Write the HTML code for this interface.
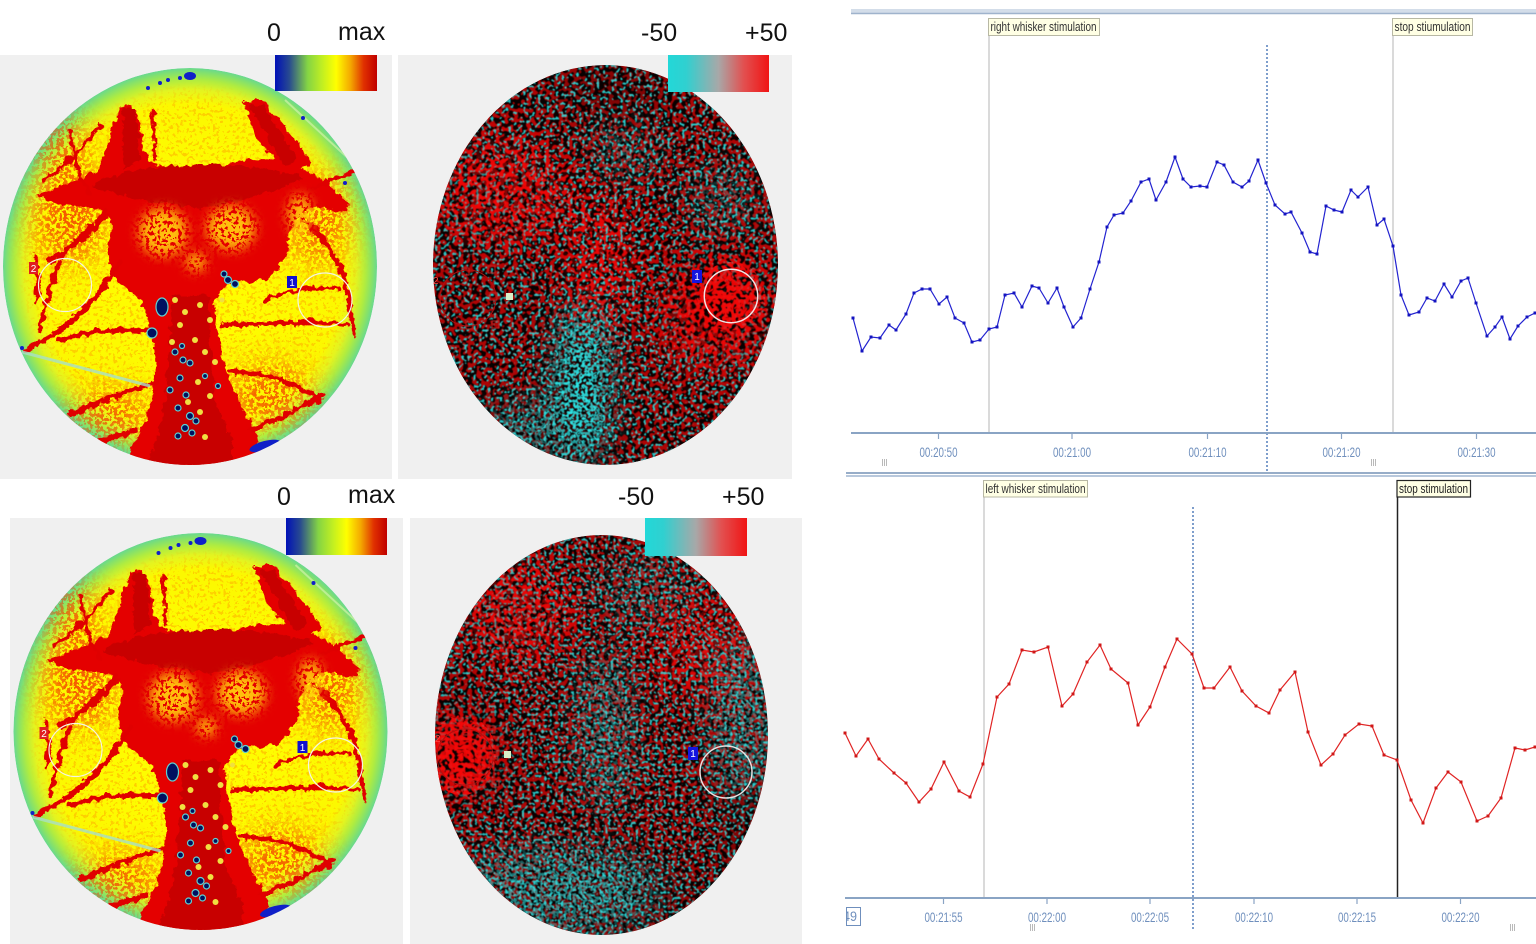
<!DOCTYPE html>
<html>
<head>
<meta charset="utf-8">
<style>
html,body{margin:0;padding:0;background:#fff;width:1536px;height:944px;overflow:hidden}
svg{display:block}
</style>
</head>
<body>
<svg width="1536" height="944" viewBox="0 0 1536 944" xmlns="http://www.w3.org/2000/svg">
<defs>
  <linearGradient id="jet" x1="0" y1="0" x2="1" y2="0">
    <stop offset="0" stop-color="#0010b8"/>
    <stop offset="0.14" stop-color="#284a90"/>
    <stop offset="0.32" stop-color="#84d444"/>
    <stop offset="0.47" stop-color="#c4f020"/>
    <stop offset="0.6" stop-color="#ffff00"/>
    <stop offset="0.74" stop-color="#f4a800"/>
    <stop offset="0.87" stop-color="#e03000"/>
    <stop offset="1" stop-color="#c00000"/>
  </linearGradient>
  <linearGradient id="cr" x1="0" y1="0" x2="1" y2="0">
    <stop offset="0" stop-color="#22d8d8"/>
    <stop offset="0.18" stop-color="#30d0d0"/>
    <stop offset="0.5" stop-color="#a8a8a8"/>
    <stop offset="0.75" stop-color="#e25050"/>
    <stop offset="1" stop-color="#f01414"/>
  </linearGradient>
  <radialGradient id="heatBase" cx="0.5" cy="0.5" r="0.5">
    <stop offset="0" stop-color="#ffff00"/>
    <stop offset="0.82" stop-color="#fcf800"/>
    <stop offset="0.89" stop-color="#e4f420"/>
    <stop offset="0.94" stop-color="#b0ec40"/>
    <stop offset="0.98" stop-color="#80e070"/>
    <stop offset="1" stop-color="#68d890"/>
  </radialGradient>
  <radialGradient id="fadeR" cx="0.5" cy="0.5" r="0.5">
    <stop offset="0" stop-color="#fff"/>
    <stop offset="0.8" stop-color="#ccc"/>
    <stop offset="0.93" stop-color="#000"/>
  </radialGradient>

  <filter id="rough" x="-10%" y="-10%" width="120%" height="120%">
    <feTurbulence type="fractalNoise" baseFrequency="0.13" numOctaves="3" seed="5" result="n"/>
    <feDisplacementMap in="SourceGraphic" in2="n" scale="9" xChannelSelector="R" yChannelSelector="G"/>
  </filter>
  <filter id="spkO" x="0" y="0" width="1" height="1" color-interpolation-filters="sRGB">
    <feTurbulence type="fractalNoise" baseFrequency="0.3" numOctaves="2" seed="11"/>
    <feColorMatrix type="matrix" values="0 0 0 0 1  0 0 0 0 0.55  0 0 0 0 0  1 0 0 0 0"/>
    <feComponentTransfer><feFuncA type="discrete" tableValues="0 0 0 0 0 0 0 0 0 0 0 0 1 1 1 1 1 1 1 1"/></feComponentTransfer>
    <feComposite in2="SourceGraphic" operator="in"/>
  </filter>
  <filter id="spkRO" x="0" y="0" width="1" height="1" color-interpolation-filters="sRGB">
    <feTurbulence type="fractalNoise" baseFrequency="0.28" numOctaves="2" seed="13"/>
    <feColorMatrix type="matrix" values="0 0 0 0 0.95  0 0 0 0 0.2  0 0 0 0 0  1 0 0 0 0"/>
    <feComponentTransfer><feFuncA type="discrete" tableValues="0 0 0 0 0 0 0 0 0 0 1 1 1 1 1 1 1 1 1 1"/></feComponentTransfer>
    <feComposite in2="SourceGraphic" operator="in"/>
  </filter>
  <filter id="spkY" x="0" y="0" width="1" height="1" color-interpolation-filters="sRGB">
    <feTurbulence type="fractalNoise" baseFrequency="0.28" numOctaves="2" seed="19"/>
    <feColorMatrix type="matrix" values="0 0 0 0 1  0 0 0 0 0.75  0 0 0 0 0.05  1 0 0 0 0"/>
    <feComponentTransfer><feFuncA type="discrete" tableValues="0 0 0 0 0 0 0 0 0 1 1 1 1 1 1 1 1 1 1 1"/></feComponentTransfer>
    <feComposite in2="SourceGraphic" operator="in"/>
  </filter>
  <filter id="spkR" x="0" y="0" width="1" height="1" color-interpolation-filters="sRGB">
    <feTurbulence type="fractalNoise" baseFrequency="0.22" numOctaves="1" seed="3"/>
    <feColorMatrix type="matrix" values="0 0 0 0 0.92  0 0 0 0 0.02  0 0 0 0 0.02  1 0 0 0 0"/>
    <feComponentTransfer><feFuncA type="discrete" tableValues="0 0 0 0 0 0 0 0 0 0 1 1 1 1 1 1 1 1 1 1"/></feComponentTransfer>
    <feGaussianBlur stdDeviation="0.5"/>
    <feComposite in2="SourceGraphic" operator="in"/>
  </filter>
  <filter id="spkRh" x="0" y="0" width="1" height="1" color-interpolation-filters="sRGB">
    <feTurbulence type="fractalNoise" baseFrequency="0.22" numOctaves="1" seed="31"/>
    <feColorMatrix type="matrix" values="0 0 0 0 0.95  0 0 0 0 0.03  0 0 0 0 0.03  1 0 0 0 0"/>
    <feComponentTransfer><feFuncA type="discrete" tableValues="0 0 0 0 0 0 0 0 0 0 1 1 1 1 1 1 1 1 1 1"/></feComponentTransfer>
    <feGaussianBlur stdDeviation="0.5"/>
    <feComposite in2="SourceGraphic" operator="in"/>
  </filter>
  <filter id="spkC" x="0" y="0" width="1" height="1" color-interpolation-filters="sRGB">
    <feTurbulence type="fractalNoise" baseFrequency="0.34" numOctaves="1" seed="9"/>
    <feColorMatrix type="matrix" values="0 0 0 0 0.18  0 0 0 0 0.9  0 0 0 0 0.9  1 0 0 0 0"/>
    <feComponentTransfer><feFuncA type="discrete" tableValues="0 0 0 0 0 0 0 0 0 0 0 0 1 1 1 1 1 1 1 1"/></feComponentTransfer>
    <feGaussianBlur stdDeviation="0.4"/>
    <feComposite in2="SourceGraphic" operator="in"/>
  </filter>
  <filter id="spkCh" x="0" y="0" width="1" height="1" color-interpolation-filters="sRGB">
    <feTurbulence type="fractalNoise" baseFrequency="0.34" numOctaves="1" seed="41"/>
    <feColorMatrix type="matrix" values="0 0 0 0 0.18  0 0 0 0 0.9  0 0 0 0 0.9  1 0 0 0 0"/>
    <feComponentTransfer><feFuncA type="discrete" tableValues="0 0 0 0 0 0 0 0 0 0 1 1 1 1 1 1 1 1 1 1"/></feComponentTransfer>
    <feGaussianBlur stdDeviation="0.4"/>
    <feComposite in2="SourceGraphic" operator="in"/>
  </filter>
  <filter id="spkR2" x="0" y="0" width="1" height="1" color-interpolation-filters="sRGB">
    <feTurbulence type="fractalNoise" baseFrequency="0.22" numOctaves="1" seed="17"/>
    <feColorMatrix type="matrix" values="0 0 0 0 0.9  0 0 0 0 0.02  0 0 0 0 0.02  1 0 0 0 0"/>
    <feComponentTransfer><feFuncA type="discrete" tableValues="0 0 0 0 0 0 0 0 0 0 1 1 1 1 1 1 1 1 1 1"/></feComponentTransfer>
    <feGaussianBlur stdDeviation="0.5"/>
    <feComposite in2="SourceGraphic" operator="in"/>
  </filter>
  <filter id="spkC2" x="0" y="0" width="1" height="1" color-interpolation-filters="sRGB">
    <feTurbulence type="fractalNoise" baseFrequency="0.36" numOctaves="1" seed="23"/>
    <feColorMatrix type="matrix" values="0 0 0 0 0.18  0 0 0 0 0.88  0 0 0 0 0.88  1 0 0 0 0"/>
    <feComponentTransfer><feFuncA type="discrete" tableValues="0 0 0 0 0 0 0 0 0 0 0 0 1 1 1 1 1 1 1 1"/></feComponentTransfer>
    <feGaussianBlur stdDeviation="0.4"/>
    <feComposite in2="SourceGraphic" operator="in"/>
  </filter>
  <filter id="mblur" x="-20%" y="-20%" width="140%" height="140%">
    <feGaussianBlur stdDeviation="16"/>
  </filter>
  <filter id="mblur2" x="-20%" y="-20%" width="140%" height="140%">
    <feGaussianBlur stdDeviation="6"/>
  </filter>

  <clipPath id="cHeat"><ellipse cx="190" cy="266.5" rx="187" ry="198.5"/></clipPath>
  <clipPath id="cS1"><ellipse cx="605.5" cy="265" rx="172.5" ry="200"/></clipPath>
  <clipPath id="cS2"><ellipse cx="601.5" cy="735" rx="166.5" ry="200"/></clipPath>

  <mask id="mO" maskUnits="userSpaceOnUse" x="0" y="60" width="390" height="420">
    <ellipse cx="190" cy="266.5" rx="187" ry="198.5" fill="url(#fadeR)"/>
  </mask>
  <mask id="mSide" maskUnits="userSpaceOnUse" x="0" y="60" width="390" height="420">
    <g filter="url(#mblur)" fill="#fff">
      <ellipse cx="70" cy="215" rx="35" ry="50"/>
      <ellipse cx="318" cy="220" rx="28" ry="45"/>
      <ellipse cx="110" cy="415" rx="40" ry="25"/>
      <ellipse cx="270" cy="395" rx="40" ry="30"/>
      <ellipse cx="62" cy="145" rx="25" ry="25"/>
    </g>
  </mask>
  <mask id="mCen" maskUnits="userSpaceOnUse" x="0" y="60" width="390" height="420">
    <g filter="url(#mblur2)" fill="#fff">
      <ellipse cx="163" cy="232" rx="24" ry="24"/>
      <ellipse cx="231" cy="228" rx="24" ry="22"/>
      <ellipse cx="196" cy="262" rx="10" ry="9"/>
      <ellipse cx="300" cy="215" rx="12" ry="20"/>
    </g>
  </mask>

  <mask id="mR1" maskUnits="userSpaceOnUse" x="420" y="50" width="380" height="430">
    <rect x="420" y="50" width="380" height="430" fill="#bcbcbc"/>
    <g filter="url(#mblur)">
      <ellipse cx="505" cy="190" rx="70" ry="60" fill="#fff"/>
      <ellipse cx="600" cy="260" rx="35" ry="70" fill="#fff"/>
      <ellipse cx="718" cy="305" rx="60" ry="60" fill="#fff"/>
      <ellipse cx="580" cy="395" rx="30" ry="75" fill="#2a2a2a"/>
      <ellipse cx="515" cy="430" rx="45" ry="25" fill="#666"/>
      <ellipse cx="612" cy="90" rx="60" ry="22" fill="#777"/>
    </g>
  </mask>
  <mask id="mRh1" maskUnits="userSpaceOnUse" x="420" y="50" width="380" height="430">
    <rect x="420" y="50" width="380" height="430" fill="#000"/>
    <g filter="url(#mblur)">
      <ellipse cx="505" cy="195" rx="60" ry="50" fill="#888"/>
      <ellipse cx="602" cy="255" rx="28" ry="60" fill="#888"/>
      <ellipse cx="705" cy="330" rx="55" ry="45" fill="#999"/>
    </g>
    <circle cx="731" cy="296" r="34" fill="#fff"/>
  </mask>
  <mask id="mC1" maskUnits="userSpaceOnUse" x="420" y="50" width="380" height="430">
    <rect x="420" y="50" width="380" height="430" fill="#dcdcdc"/>
    <g filter="url(#mblur)">
      <ellipse cx="582" cy="385" rx="28" ry="80" fill="#fff"/>
      <ellipse cx="718" cy="305" rx="48" ry="48" fill="#111"/>
      <ellipse cx="500" cy="200" rx="60" ry="50" fill="#999"/>
    </g>
  </mask>
  <mask id="mCh1" maskUnits="userSpaceOnUse" x="420" y="50" width="380" height="430">
    <rect x="420" y="50" width="380" height="430" fill="#000"/>
    <g filter="url(#mblur)">
      <ellipse cx="582" cy="385" rx="26" ry="78" fill="#fff"/>
      <ellipse cx="525" cy="428" rx="38" ry="22" fill="#999"/>
      <ellipse cx="625" cy="150" rx="35" ry="25" fill="#555"/>
      <ellipse cx="722" cy="200" rx="35" ry="35" fill="#444"/>
    </g>
  </mask>
  <mask id="mR2" maskUnits="userSpaceOnUse" x="420" y="520" width="370" height="430">
    <rect x="420" y="520" width="370" height="430" fill="#bcbcbc"/>
    <g filter="url(#mblur)">
      <ellipse cx="462" cy="755" rx="38" ry="45" fill="#fff"/>
      <ellipse cx="520" cy="610" rx="60" ry="60" fill="#fff"/>
      <ellipse cx="700" cy="640" rx="60" ry="60" fill="#eee"/>
      <ellipse cx="600" cy="890" rx="90" ry="40" fill="#777"/>
      <ellipse cx="745" cy="830" rx="30" ry="60" fill="#888"/>
    </g>
  </mask>
  <mask id="mRh2" maskUnits="userSpaceOnUse" x="420" y="520" width="370" height="430">
    <rect x="420" y="520" width="370" height="430" fill="#000"/>
    <g filter="url(#mblur)">
      <ellipse cx="520" cy="615" rx="50" ry="50" fill="#888"/>
      <ellipse cx="700" cy="650" rx="50" ry="50" fill="#777"/>
    </g>
    <ellipse cx="462" cy="755" rx="34" ry="40" fill="#fff"/>
  </mask>
  <mask id="mC2" maskUnits="userSpaceOnUse" x="420" y="520" width="370" height="430">
    <rect x="420" y="520" width="370" height="430" fill="#e0e0e0"/>
    <g filter="url(#mblur)">
      <ellipse cx="462" cy="755" rx="40" ry="45" fill="#000"/>
      <ellipse cx="515" cy="620" rx="40" ry="40" fill="#999"/>
    </g>
  </mask>
  <mask id="mCh2" maskUnits="userSpaceOnUse" x="420" y="520" width="370" height="430">
    <rect x="420" y="520" width="370" height="430" fill="#000"/>
    <g filter="url(#mblur)">
      <ellipse cx="560" cy="890" rx="100" ry="40" fill="#999"/>
      <ellipse cx="742" cy="720" rx="30" ry="80" fill="#777"/>
      <ellipse cx="605" cy="730" rx="25" ry="80" fill="#777"/>
      <ellipse cx="640" cy="590" rx="50" ry="30" fill="#444"/>
    </g>
  </mask>

  <marker id="mb" markerWidth="3" markerHeight="3" refX="1.5" refY="1.5" markerUnits="userSpaceOnUse">
    <rect width="3" height="3" fill="#1414c0"/>
  </marker>
  <marker id="mr" markerWidth="3" markerHeight="3" refX="1.5" refY="1.5" markerUnits="userSpaceOnUse">
    <rect width="3" height="3" fill="#d01818"/>
  </marker>

  <g id="heat" clip-path="url(#cHeat)">
    <ellipse cx="190" cy="266.5" rx="187" ry="198.5" fill="url(#heatBase)"/>
    <rect x="0" y="65" width="380" height="405" filter="url(#spkO)" mask="url(#mO)" opacity="0.45"/>
    <rect x="0" y="65" width="380" height="405" filter="url(#spkRO)" mask="url(#mSide)" opacity="0.8"/>
    <g filter="url(#rough)">
      <path fill="#e40000" d="M36,196 L60,186 L84,178 L100,168 L106,150 L112,128 L120,108 L132,104 L140,120 L142,142 L150,162 L170,168 L190,172 L212,170 L232,162 L262,158 L286,160 L300,168 L316,176 L334,190 L350,206 L340,212 L318,206 L300,212 L290,232 L286,256 L272,276 L250,282 L228,284 L214,300 L218,340 L226,372 L240,404 L256,432 L262,452 L250,468 L132,468 L130,450 L142,430 L152,400 L156,362 L152,330 L140,300 L122,286 L110,272 L108,250 L112,228 L104,212 L80,206 L56,204 Z"/>
      <path fill="#e40000" d="M242,100 L262,100 L282,124 L300,146 L312,164 L296,170 L276,160 L258,140 Z"/>
      <g fill="none" stroke="#e00000" stroke-linecap="round">
        <path stroke-width="6" d="M106,212 C92,230 75,245 50,262"/>
        <path stroke-width="5" d="M120,262 C105,285 92,305 60,330 C45,340 35,345 25,350"/>
        <path stroke-width="4" d="M60,262 C50,285 45,305 40,330"/>
        <path stroke-width="5" d="M300,215 C320,232 336,255 345,280 C350,300 350,320 355,335"/>
        <path stroke-width="4" d="M310,190 C325,182 340,178 355,172"/>
        <path stroke-width="5" d="M150,330 C120,330 90,330 60,340"/>
        <path stroke-width="5" d="M158,382 C130,390 100,400 70,415"/>
        <path stroke-width="5" d="M222,325 C260,325 300,320 345,325"/>
        <path stroke-width="5" d="M230,372 C260,372 290,380 320,400"/>
        <path stroke-width="3.5" d="M100,125 C90,142 70,160 45,180"/>
        <path stroke-width="3.5" d="M70,130 C75,160 80,180 90,195"/>
        <path stroke-width="5" d="M135,430 C110,440 90,445 70,440"/>
        <path stroke-width="5" d="M250,430 C275,420 300,410 320,395"/>
        <path stroke-width="3.5" d="M35,255 C38,270 40,285 36,300"/>
        <path stroke-width="3.5" d="M265,300 C290,290 320,285 340,290"/>
        <path stroke-width="3" d="M153,110 L155,160"/>
      </g>
    </g>
    <g filter="url(#rough)" fill="#c80000">
      <path d="M92,185 C140,160 240,158 305,178 C262,196 230,204 200,208 C160,204 120,198 92,185 Z"/>
      <path d="M172,296 L208,296 L214,400 L232,440 L232,466 L148,466 L156,440 L166,400 Z"/>
      <path d="M122,108 L136,108 L140,160 L124,170 Z"/>
      <path d="M248,104 L262,104 L298,158 L285,168 Z"/>
    </g>
    <rect x="60" y="150" width="280" height="160" filter="url(#spkY)" mask="url(#mCen)"/>
    <line x1="22" y1="352" x2="150" y2="386" stroke="#a8e0c8" stroke-width="3" opacity="0.8"/>
    <line x1="285" y1="100" x2="350" y2="160" stroke="#c8f0a0" stroke-width="2" opacity="0.8"/>
    <g fill="#f0e040">
      <circle cx="175" cy="300" r="3"/><circle cx="185" cy="312" r="3"/><circle cx="200" cy="305" r="3"/>
      <circle cx="180" cy="325" r="3"/><circle cx="210" cy="320" r="3"/><circle cx="195" cy="340" r="3"/>
      <circle cx="205" cy="352" r="3"/><circle cx="215" cy="362" r="3"/><circle cx="198" cy="382" r="3"/>
      <circle cx="210" cy="396" r="3"/><circle cx="188" cy="402" r="3"/><circle cx="200" cy="412" r="3"/>
      <circle cx="205" cy="437" r="3"/><circle cx="172" cy="342" r="3"/><circle cx="222" cy="300" r="2.5"/>
    </g>
    <g fill="#001060" stroke="#60d0d0" stroke-width="1.2">
      <ellipse cx="162" cy="307" rx="6" ry="9"/>
      <circle cx="152" cy="333" r="5"/>
      <circle cx="228" cy="280" r="3.5"/><circle cx="235" cy="284" r="3.5"/><circle cx="224" cy="274" r="3"/>
      <circle cx="175" cy="352" r="3"/><circle cx="183" cy="360" r="3"/><circle cx="190" cy="363" r="3"/>
      <circle cx="180" cy="378" r="3"/><circle cx="170" cy="390" r="3"/><circle cx="186" cy="395" r="3"/>
      <circle cx="178" cy="408" r="3"/><circle cx="190" cy="416" r="3.5"/><circle cx="185" cy="428" r="3.5"/>
      <circle cx="192" cy="433" r="3"/><circle cx="178" cy="436" r="3"/><circle cx="196" cy="421" r="3"/>
      <circle cx="205" cy="376" r="2.5"/><circle cx="218" cy="386" r="2.5"/><circle cx="182" cy="346" r="2.5"/>
    </g>
    <g fill="#1020c8">
      <ellipse cx="190" cy="76" rx="6" ry="4"/>
      <circle cx="180" cy="78" r="2"/><circle cx="168" cy="80" r="2"/><circle cx="160" cy="83" r="2"/><circle cx="148" cy="88" r="2"/>
      <ellipse cx="265" cy="446" rx="16" ry="5" transform="rotate(-15 265 446)"/>
      <circle cx="303" cy="118" r="2"/><circle cx="345" cy="183" r="2"/><circle cx="22" cy="348" r="2"/><circle cx="97" cy="457" r="2.5"/>
    </g>
    <circle cx="65" cy="285" r="26.5" fill="none" stroke="#f4f4e4" stroke-width="1.2"/>
    <circle cx="325" cy="300" r="27" fill="none" stroke="#f4f4e4" stroke-width="1.2"/>
    <rect x="29" y="262" width="9" height="12" fill="#e02020"/>
    <text x="33.5" y="272" font-family="Liberation Sans, sans-serif" font-size="10" fill="#fff" text-anchor="middle">2</text>
    <rect x="287" y="276" width="10" height="12" fill="#1010d0"/>
    <text x="292" y="286" font-family="Liberation Sans, sans-serif" font-size="10" fill="#fff" text-anchor="middle">1</text>
  </g>
</defs>

<!-- Panels -->
<rect x="0" y="55" width="392" height="424" fill="#f0f0f0"/>
<rect x="398" y="55" width="394" height="424" fill="#f0f0f0"/>
<rect x="10" y="518" width="393" height="426" fill="#f0f0f0"/>
<rect x="410" y="518" width="392" height="426" fill="#f0f0f0"/>

<!-- Heatmaps -->
<use href="#heat"/>
<use href="#heat" transform="translate(10.5,465)"/>

<!-- Speckle top-right -->
<g clip-path="url(#cS1)">
  <ellipse cx="605.5" cy="265" rx="172.5" ry="200" fill="#080101"/>
  <rect x="430" y="62" width="352" height="406" filter="url(#spkR)" mask="url(#mR1)"/>
  <rect x="430" y="62" width="352" height="406" filter="url(#spkRh)" mask="url(#mRh1)"/>
  <rect x="430" y="62" width="352" height="406" filter="url(#spkC)" mask="url(#mC1)"/>
  <rect x="430" y="62" width="352" height="406" filter="url(#spkCh)" mask="url(#mCh1)"/>
</g>
<circle cx="731" cy="296" r="26.7" fill="none" stroke="#f0e4e4" stroke-width="1.5"/>
<circle cx="468" cy="298" r="28" fill="none" stroke="#b01010" stroke-width="1"/>
<g fill="none" stroke="#c02020" stroke-width="1">
  <rect x="462" y="268" width="7" height="7"/><rect x="488" y="266" width="7" height="7"/>
  <rect x="466" y="322" width="7" height="7"/><rect x="492" y="321" width="7" height="7"/>
  <rect x="490" y="293" width="7" height="7"/><rect x="440" y="296" width="6" height="7"/>
</g>
<rect x="506" y="293" width="7" height="7" fill="#d8f0c8"/>
<text x="433" y="284" font-family="Liberation Sans, sans-serif" font-size="10" fill="#ff4040">2</text>
<rect x="692" y="270" width="10" height="13" fill="#1515e0"/>
<text x="697" y="280" font-family="Liberation Sans, sans-serif" font-size="10" fill="#fff" text-anchor="middle">1</text>

<!-- Speckle bottom-right -->
<g clip-path="url(#cS2)">
  <ellipse cx="601.5" cy="735" rx="166.5" ry="200" fill="#080101"/>
  <rect x="432" y="532" width="340" height="406" filter="url(#spkR2)" mask="url(#mR2)"/>
  <rect x="432" y="532" width="340" height="406" filter="url(#spkRh)" mask="url(#mRh2)"/>
  <rect x="432" y="532" width="340" height="406" filter="url(#spkC2)" mask="url(#mC2)"/>
  <rect x="432" y="532" width="340" height="406" filter="url(#spkCh)" mask="url(#mCh2)"/>
</g>
<circle cx="726" cy="772" r="26" fill="none" stroke="#e8e0e0" stroke-width="1.5"/>
<circle cx="465" cy="757" r="28" fill="none" stroke="#b01010" stroke-width="1"/>
<g fill="none" stroke="#c02020" stroke-width="1">
  <rect x="463" y="728" width="7" height="7"/><rect x="488" y="726" width="7" height="7"/>
  <rect x="467" y="781" width="7" height="7"/><rect x="492" y="780" width="7" height="7"/>
  <rect x="490" y="752" width="7" height="7"/>
</g>
<rect x="504" y="751" width="7" height="7" fill="#d8f0c8"/>
<text x="435" y="742" font-family="Liberation Sans, sans-serif" font-size="10" fill="#ff4040">2</text>
<rect x="688" y="747" width="10" height="13" fill="#1515e0"/>
<text x="693" y="757" font-family="Liberation Sans, sans-serif" font-size="10" fill="#fff" text-anchor="middle">1</text>

<!-- Colorbars -->
<rect x="275" y="55" width="102" height="36" fill="url(#jet)"/>
<rect x="668" y="55" width="101" height="37" fill="url(#cr)"/>
<rect x="286" y="518" width="101" height="37" fill="url(#jet)"/>
<rect x="645" y="518" width="102" height="38" fill="url(#cr)"/>

<g font-family="Liberation Sans, sans-serif" font-size="25" fill="#111">
  <text x="267" y="41">0</text>
  <text x="338" y="40">max</text>
  <text x="641" y="41">-50</text>
  <text x="745" y="41">+50</text>
  <text x="277" y="505">0</text>
  <text x="348" y="503">max</text>
  <text x="618" y="505">-50</text>
  <text x="722" y="505">+50</text>
</g>

<!-- ===== Top chart ===== -->
<rect x="851" y="9" width="685" height="4" fill="#d3dde9"/>
<line x1="851" y1="13.5" x2="1536" y2="13.5" stroke="#9fb3cc" stroke-width="1.5"/>
<line x1="989" y1="35" x2="989" y2="433" stroke="#b4b4b4" stroke-width="1"/>
<line x1="1393" y1="35" x2="1393" y2="433" stroke="#b4b4b4" stroke-width="1"/>
<line x1="1267" y1="45" x2="1267" y2="472" stroke="#3a6ab0" stroke-width="1.3" stroke-dasharray="2 2"/>
<line x1="851" y1="433" x2="1536" y2="433" stroke="#8aa4c4" stroke-width="2"/>
<g stroke="#8aa4c4" stroke-width="1.2">
  <line x1="938.5" y1="433" x2="938.5" y2="439"/><line x1="1072" y1="433" x2="1072" y2="439"/>
  <line x1="1207.5" y1="433" x2="1207.5" y2="439"/><line x1="1341.5" y1="433" x2="1341.5" y2="439"/>
  <line x1="1476.5" y1="433" x2="1476.5" y2="439"/>
</g>
<g font-family="Liberation Sans, sans-serif" font-size="14" fill="#6f8fbd" text-anchor="middle">
  <text x="938.5" y="457" textLength="38" lengthAdjust="spacingAndGlyphs">00:20:50</text>
  <text x="1072" y="457" textLength="38" lengthAdjust="spacingAndGlyphs">00:21:00</text>
  <text x="1207.5" y="457" textLength="38" lengthAdjust="spacingAndGlyphs">00:21:10</text>
  <text x="1341.5" y="457" textLength="38" lengthAdjust="spacingAndGlyphs">00:21:20</text>
  <text x="1476.5" y="457" textLength="38" lengthAdjust="spacingAndGlyphs">00:21:30</text>
</g>
<g stroke="#a8a8a8" stroke-width="0.8">
  <line x1="882.5" y1="459" x2="882.5" y2="466"/><line x1="884.5" y1="459" x2="884.5" y2="466"/><line x1="886.5" y1="459" x2="886.5" y2="466"/>
  <line x1="1371.5" y1="459" x2="1371.5" y2="466"/><line x1="1373.5" y1="459" x2="1373.5" y2="466"/><line x1="1375.5" y1="459" x2="1375.5" y2="466"/>
</g>
<rect x="846" y="472" width="690" height="2" fill="#97adc8"/>
<rect x="846" y="475" width="690" height="2" fill="#b8c8dc"/>

<rect x="988.5" y="18.5" width="111" height="17" fill="#ffffe4" stroke="#b8b8a4" stroke-width="1"/>
<text x="990.5" y="31" font-family="Liberation Sans, sans-serif" font-size="13" fill="#333" textLength="106" lengthAdjust="spacingAndGlyphs">right whisker stimulation</text>
<rect x="1392.5" y="18.5" width="80" height="17" fill="#ffffe4" stroke="#b8b8a4" stroke-width="1"/>
<text x="1394.5" y="31" font-family="Liberation Sans, sans-serif" font-size="13" fill="#333" textLength="76" lengthAdjust="spacingAndGlyphs">stop stiumulation</text>

<polyline fill="none" stroke="#2323d0" stroke-width="1.2" marker-start="url(#mb)" marker-mid="url(#mb)" marker-end="url(#mb)"
 points="853,318 862,351 871,337 880,338 889,325 896,330 906,314 914,293 922,289 930,289 939,304 947,297 955,318 964,323 972,342 980,340 989,329 997,327 1005,295 1014,293 1022,307 1032,286 1039,288 1048,303 1057,288 1064,307 1073,327 1081,318 1090,289 1099,262 1107,227 1114,215 1123,213 1131,201 1141,182 1149,179 1156,200 1166,182 1175,157 1183,179 1191,187 1200,186 1207,187 1217,162 1224,165 1233,182 1242,187 1249,181 1258,160 1266,183 1275,205 1285,214 1291,212 1302,233 1310,252 1317,254 1326,206 1334,210 1342,212 1351,190 1358,197 1368,187 1377,225 1384,219 1393,246 1401,295 1409,315 1419,312 1427,298 1435,301 1444,284 1452,297 1461,281 1468,278 1476,303 1487,336 1495,327 1502,317 1510,339 1518,326 1527,317 1535,313"/>

<!-- ===== Bottom chart ===== -->
<line x1="984" y1="497" x2="984" y2="898" stroke="#b4b4b4" stroke-width="1"/>
<line x1="1397.5" y1="497" x2="1397.5" y2="898" stroke="#222" stroke-width="1.5"/>
<line x1="1193" y1="507" x2="1193" y2="930" stroke="#3a6ab0" stroke-width="1.3" stroke-dasharray="2 2"/>
<line x1="845" y1="898" x2="1536" y2="898" stroke="#8aa4c4" stroke-width="2"/>
<g stroke="#8aa4c4" stroke-width="1.2">
  <line x1="943.5" y1="898" x2="943.5" y2="904"/><line x1="1047" y1="898" x2="1047" y2="904"/>
  <line x1="1150" y1="898" x2="1150" y2="904"/><line x1="1254" y1="898" x2="1254" y2="904"/>
  <line x1="1357" y1="898" x2="1357" y2="904"/><line x1="1460.5" y1="898" x2="1460.5" y2="904"/>
</g>
<g font-family="Liberation Sans, sans-serif" font-size="14" fill="#6f8fbd" text-anchor="middle">
  <text x="943.5" y="922" textLength="38" lengthAdjust="spacingAndGlyphs">00:21:55</text>
  <text x="1047" y="922" textLength="38" lengthAdjust="spacingAndGlyphs">00:22:00</text>
  <text x="1150" y="922" textLength="38" lengthAdjust="spacingAndGlyphs">00:22:05</text>
  <text x="1254" y="922" textLength="38" lengthAdjust="spacingAndGlyphs">00:22:10</text>
  <text x="1357" y="922" textLength="38" lengthAdjust="spacingAndGlyphs">00:22:15</text>
  <text x="1460.5" y="922" textLength="38" lengthAdjust="spacingAndGlyphs">00:22:20</text>
</g>
<svg x="846" y="907" width="15" height="19" overflow="hidden">
  <rect x="0.5" y="0.5" width="14" height="18" fill="#fff" stroke="#6f8fbd" stroke-width="1"/>
  <text x="-3" y="14" font-family="Liberation Sans, sans-serif" font-size="14" fill="#6f8fbd" textLength="14" lengthAdjust="spacingAndGlyphs">49</text>
</svg>
<g stroke="#a8a8a8" stroke-width="0.8">
  <line x1="1030.5" y1="924" x2="1030.5" y2="931"/><line x1="1032.5" y1="924" x2="1032.5" y2="931"/><line x1="1034.5" y1="924" x2="1034.5" y2="931"/>
  <line x1="1510.5" y1="924" x2="1510.5" y2="931"/><line x1="1512.5" y1="924" x2="1512.5" y2="931"/><line x1="1514.5" y1="924" x2="1514.5" y2="931"/>
</g>

<rect x="983.5" y="480.5" width="104" height="16.5" fill="#ffffe4" stroke="#b8b8a4" stroke-width="1"/>
<text x="985.5" y="493" font-family="Liberation Sans, sans-serif" font-size="13" fill="#333" textLength="100" lengthAdjust="spacingAndGlyphs">left whisker stimulation</text>
<rect x="1397" y="480.5" width="73.5" height="16.5" fill="#ffffe4" stroke="#222" stroke-width="1.2"/>
<text x="1399" y="493" font-family="Liberation Sans, sans-serif" font-size="13" fill="#222" textLength="69" lengthAdjust="spacingAndGlyphs">stop stimulation</text>

<polyline fill="none" stroke="#e02424" stroke-width="1.2" marker-start="url(#mr)" marker-mid="url(#mr)" marker-end="url(#mr)"
 points="845,733 856,756 868,739 879,759 894,773 906,783 919,802 931,789 944,762 959,791 970,797 983,764 997,697 1009,684 1022,650 1034,652 1048,647 1062,706 1073,694 1087,662 1100,645 1111,669 1128,683 1138,725 1150,707 1165,667 1177,639 1192,654 1204,688 1214,688 1230,667 1242,691 1256,706 1269,713 1280,690 1295,672 1308,732 1321,765 1333,754 1345,735 1359,724 1372,726 1384,755 1397,760 1411,800 1423,823 1436,788 1448,772 1461,782 1477,821 1488,816 1501,798 1515,748 1525,750 1535,747"/>
</svg>
</body>
</html>
